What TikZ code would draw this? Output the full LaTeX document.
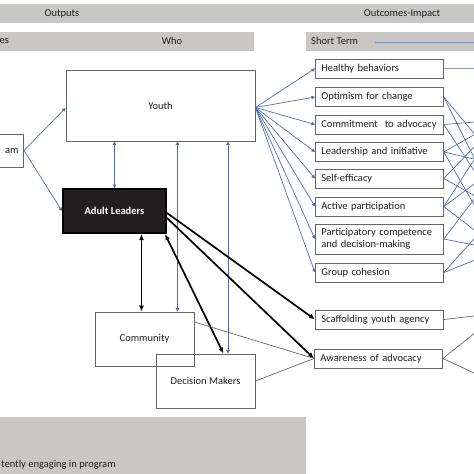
\documentclass[tikz,border=0pt]{standalone}
\usepackage{fontspec}
\setmainfont{Carlito}
\usetikzlibrary{arrows.meta, positioning}

\definecolor{bandgray}{HTML}{C9C6C6}
\definecolor{boxline}{HTML}{666666}
\definecolor{linkblue}{HTML}{4F6FA8}
\definecolor{stline}{HTML}{8A96BE}
\definecolor{leaderfill}{HTML}{231F20}
\definecolor{textdark}{HTML}{1E1E1E}

\begin{document}
\begin{tikzpicture}[x=1pt, y=-1pt,
        every node/.style={font=\fontsize{10.5}{12.3}\selectfont, text=textdark, inner sep=0pt},
        actor/.style={draw=boxline, line width=0.8pt},
        outcome/.style={draw=boxline, line width=0.8pt, anchor=west, minimum height=19pt,
                        text width=116pt, inner xsep=6pt, align=left},
        bluelink/.style={draw=linkblue, line width=0.7pt, >={Triangle[length=3.5pt, width=3.5pt]}},
        graylink/.style={draw=boxline, line width=0.7pt},
        leaderlink/.style={draw=black, line width=1.7pt, >={Latex[length=6pt, width=5pt]}}]

    \useasboundingbox (0,0) rectangle (474,474);
    \clip (0,0) rectangle (474,474);

    % Header bands
    \fill[bandgray] (0,4) rectangle (474,23);
    \fill[bandgray] (0,32) rectangle (254,51);
    \fill[bandgray] (306,32) rectangle (480,51);
    \fill[bandgray] (0,417) rectangle (306,480);
    \node (outputs) at (62,14) {Outputs};
    \node (impact) at (402,14) {Outcomes-Impact};
    \node[anchor=west] (acts) at (-0.5,41) {es};
    \node (who) at (172,41) {Who};
    \node[anchor=west] (stlabel) at (311,41) {Short Term};
    \coordinate (stend) at (480,42);
    \draw[stline, line width=0.8pt] (stlabel.east) ++(17,1) -- (stend);
    \node[anchor=west] (engage) at (1,465) {tently engaging in program};

    % Who
    \node[actor, text width=60pt, inner xsep=5pt, align=right, minimum height=33pt, anchor=east]
        (prog) at (24,150.5) {am};
    \node[actor, minimum width=189pt, minimum height=71pt] (youth) at (160.5,105.5) {Youth};
    \node[draw=black, line width=2.4pt, fill=leaderfill, minimum width=102.6pt, minimum height=43.6pt,
          text=white, font=\fontsize{10.5}{12.3}\selectfont\bfseries] (adult) at (114.5,211) {Adult Leaders};
    \node[actor, minimum width=99pt, minimum height=54pt] (comm) at (144.5,339) {Community};
    \node[actor, minimum width=99pt, minimum height=54pt] (dm) at (205.5,381) {Decision Makers};

    % Short term outcomes
    \node[outcome] (healthy) at (315,68.5) {Healthy behaviors};
    \node[outcome] (optimism) at (315,97) {Optimism for change};
    \node[outcome] (commit) at (315,124.5) {Commitment~ to advocacy};
    \node[outcome] (lead) at (315,152) {Leadership and initiative};
    \node[outcome] (selfeff) at (315,178.5) {Self-efficacy};
    \node[outcome] (active) at (315,206.5) {Active participation};
    \node[outcome, minimum height=30pt] (particip) at (315,239) {Participatory competence\\and decision-making};
    \node[outcome] (cohesion) at (315,272.5) {Group cohesion};
    \node[outcome] (scaffold) at (315,319.5) {Scaffolding youth agency};
    \node[outcome] (aware) at (314,358.5) {Awareness of advocacy};

    % Program to youth and adult leaders
    \draw[bluelink, ->] (prog.east) -- ([yshift=-2.5pt]youth.west);
    \draw[bluelink, ->] (prog.east) -- (adult.west);

    % Youth to the other groups
    \coordinate (commlink) at ([xshift=33pt]comm.north);
    \coordinate (dmlink) at ([xshift=22.5pt]dm.north);
    \draw[bluelink, <->] (adult.north) -- (adult.north |- youth.south);
    \draw[bluelink, <->] (commlink) -- (commlink |- youth.south);
    \draw[bluelink, <->] (dmlink) -- (dmlink |- youth.south);

    % Adult leaders
    \coordinate (adultlow) at ([xshift=27pt]adult.south);
    \draw[leaderlink, <->] (adultlow) -- (adultlow |- comm.north);
    \draw[leaderlink, <->] ([xshift=-2pt]adult.south east) -- ([xshift=18pt]dm.north);
    \draw[leaderlink, ->] ([yshift=-2pt]adult.east) -- (scaffold.west);
    \draw[leaderlink, ->] ([yshift=-7pt]adult.east) -- (aware.west);
    \draw[graylink] ([yshift=17pt]comm.east) -- (aware.west);
    \draw[graylink] (dm.east) -- (aware.west);

    % Youth to short term outcomes
    \foreach \goal in {healthy, optimism, commit, lead, selfeff, active, particip, cohesion}
        \draw[bluelink, ->] ([yshift=-2pt]youth.east) -- (\goal.west);

    % Towards the next column
    \coordinate (midA) at (500,120);
    \coordinate (midB) at (500,165);
    \coordinate (midC) at (500,210);
    \coordinate (midD) at (500,250);
    \coordinate (midE) at (500,313);
    \coordinate (midF) at (500,385);
    \draw[stline, line width=0.7pt] (healthy.east) -- (healthy.east -| midA);
    \foreach \from/\to in {optimism/midB, optimism/midC, commit/midA, commit/midC,
                           lead/midA, lead/midB, lead/midD, selfeff/midA, selfeff/midC,
                           active/midA, active/midB, active/midD, particip/midB, particip/midD,
                           cohesion/midC, cohesion/midD}
        \draw[bluelink] (\from.east) -- (\to);
    \draw[graylink] (scaffold.east) -- (midE);
    \draw[graylink] (aware.east) -- (midE);
    \draw[graylink] (aware.east) -- (midF);

\end{tikzpicture}
\end{document}
